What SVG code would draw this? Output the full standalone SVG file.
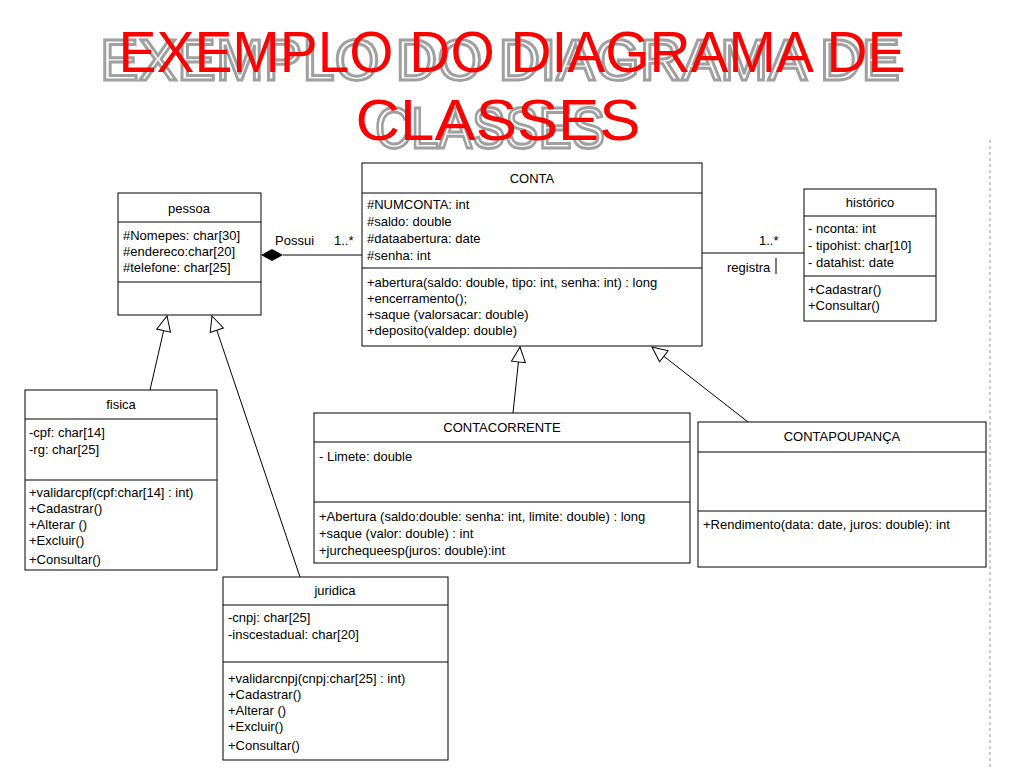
<svg xmlns="http://www.w3.org/2000/svg" width="1024" height="768" viewBox="0 0 1024 768">
<defs>
<style>
.b{fill:#fff;stroke:#000;stroke-width:1}
.l{stroke:#000;stroke-width:1;fill:none}
.t{font-family:"Liberation Sans",Arial,sans-serif;font-size:13px;fill:#000}
.c{text-anchor:middle}
.ts{font-family:"Liberation Sans",Arial,sans-serif;font-size:58px;text-anchor:middle}
</style>
<marker id="gen" markerWidth="18" markerHeight="18" refX="16" refY="8" orient="auto" markerUnits="userSpaceOnUse"><path d="M1,1 L16,8 L1,15 Z" fill="#fff" stroke="#000"/></marker>
</defs>
<rect width="1024" height="768" fill="#fff"/>
<g id="title">
<text class="ts" x="500" y="80" fill="#fff" stroke="#a0a0a0" stroke-width="3" textLength="800" lengthAdjust="spacingAndGlyphs">EXEMPLO DO DIAGRAMA DE</text>
<text class="ts" x="490" y="148" fill="#fff" stroke="#a0a0a0" stroke-width="3" textLength="230" lengthAdjust="spacingAndGlyphs">CLASSES</text>
<text class="ts" x="512" y="72" fill="#f00" textLength="787" lengthAdjust="spacingAndGlyphs">EXEMPLO DO DIAGRAMA DE</text>
<text class="ts" x="498" y="140" fill="#f00" textLength="285" lengthAdjust="spacingAndGlyphs">CLASSES</text>
</g>
<line x1="990" y1="140" x2="990" y2="768" stroke="#999" stroke-dasharray="3,3"/>
<g id="connectors">
<line class="l" x1="283" y1="255" x2="362" y2="255"/>
<path d="M261,255 L272,249 L283,255 L272,261 Z" fill="#000"/>
<text class="t" x="275" y="245">Possui</text>
<text class="t" x="334" y="245">1..*</text>
<line class="l" x1="702" y1="253" x2="804" y2="253"/>
<text class="t" x="759" y="245">1..*</text>
<text class="t" x="727" y="272">registra</text>
<line class="l" x1="776" y1="258" x2="776" y2="274"/>
<line class="l" x1="150" y1="390" x2="167" y2="316" marker-end="url(#gen)"/>
<line class="l" x1="300" y1="577" x2="212" y2="316" marker-end="url(#gen)"/>
<line class="l" x1="513" y1="413" x2="520" y2="347" marker-end="url(#gen)"/>
<line class="l" x1="748" y1="422" x2="652" y2="347" marker-end="url(#gen)"/>
</g>
<g id="pessoa">
<rect class="b" x="118" y="193" width="143" height="122"/>
<line class="l" x1="118" y1="222" x2="261" y2="222"/><line class="l" x1="118" y1="282" x2="261" y2="282"/>
<text class="t c" x="189" y="213">pessoa</text>
<text class="t" x="123" y="240">#Nomepes: char[30]</text>
<text class="t" x="123" y="256">#endereco:char[20]</text>
<text class="t" x="123" y="272">#telefone: char[25]</text>
</g>
<g id="conta">
<rect class="b" x="362" y="163" width="340" height="183"/>
<line class="l" x1="362" y1="193" x2="702" y2="193"/><line class="l" x1="362" y1="268" x2="702" y2="268"/>
<text class="t c" x="532" y="183">CONTA</text>
<text class="t" x="367" y="209">#NUMCONTA: int</text>
<text class="t" x="367" y="226">#saldo: double</text>
<text class="t" x="367" y="243">#dataabertura: date</text>
<text class="t" x="367" y="260">#senha: int</text>
<text class="t" x="367" y="287">+abertura(saldo: double, tipo: int, senha: int) : long</text>
<text class="t" x="367" y="303">+encerramento();</text>
<text class="t" x="367" y="319">+saque (valorsacar: double)</text>
<text class="t" x="367" y="335">+deposito(valdep: double)</text>
</g>
<g id="historico">
<rect class="b" x="804" y="189" width="132" height="132"/>
<line class="l" x1="804" y1="216" x2="936" y2="216"/><line class="l" x1="804" y1="276" x2="936" y2="276"/>
<text class="t c" x="870" y="207">histórico</text>
<text class="t" x="808" y="233">- nconta: int</text>
<text class="t" x="808" y="250">- tipohist: char[10]</text>
<text class="t" x="808" y="267">- datahist: date</text>
<text class="t" x="808" y="294">+Cadastrar()</text>
<text class="t" x="808" y="310">+Consultar()</text>
</g>
<g id="fisica">
<rect class="b" x="25" y="390" width="192" height="180"/>
<line class="l" x1="25" y1="419" x2="217" y2="419"/><line class="l" x1="25" y1="480" x2="217" y2="480"/>
<text class="t c" x="121" y="409">fisica</text>
<text class="t" x="29" y="437">-cpf: char[14]</text>
<text class="t" x="29" y="454">-rg: char[25]</text>
<text class="t" x="29" y="497">+validarcpf(cpf:char[14] : int)</text>
<text class="t" x="29" y="513">+Cadastrar()</text>
<text class="t" x="29" y="529">+Alterar ()</text>
<text class="t" x="29" y="545">+Excluir()</text>
<text class="t" x="29" y="564">+Consultar()</text>
</g>
<g id="juridica">
<rect class="b" x="223" y="577" width="225" height="183"/>
<line class="l" x1="223" y1="605" x2="448" y2="605"/><line class="l" x1="223" y1="662" x2="448" y2="662"/>
<text class="t c" x="335" y="595">juridica</text>
<text class="t" x="228" y="622">-cnpj: char[25]</text>
<text class="t" x="228" y="639">-inscestadual: char[20]</text>
<text class="t" x="228" y="683">+validarcnpj(cnpj:char[25] : int)</text>
<text class="t" x="228" y="699">+Cadastrar()</text>
<text class="t" x="228" y="715">+Alterar ()</text>
<text class="t" x="228" y="731">+Excluir()</text>
<text class="t" x="228" y="750">+Consultar()</text>
</g>
<g id="contacorrente">
<rect class="b" x="314" y="413" width="376" height="150"/>
<line class="l" x1="314" y1="442" x2="690" y2="442"/><line class="l" x1="314" y1="502" x2="690" y2="502"/>
<text class="t c" x="502" y="432">CONTACORRENTE</text>
<text class="t" x="319" y="461">- Limete: double</text>
<text class="t" x="319" y="521">+Abertura (saldo:double: senha: int, limite: double) : long</text>
<text class="t" x="319" y="538">+saque (valor: double) : int</text>
<text class="t" x="319" y="555">+jurchequeesp(juros: double):int</text>
</g>
<g id="contapoupanca">
<rect class="b" x="698" y="422" width="288" height="145"/>
<line class="l" x1="698" y1="452" x2="986" y2="452"/><line class="l" x1="698" y1="511" x2="986" y2="511"/>
<text class="t c" x="842" y="441">CONTAPOUPANÇA</text>
<text class="t" x="703" y="529">+Rendimento(data: date, juros: double): int</text>
</g>
</svg>
